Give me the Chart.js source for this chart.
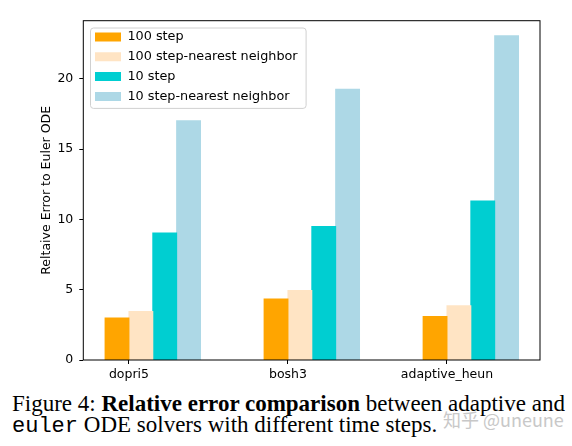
<!DOCTYPE html>
<html>
<head>
<meta charset="utf-8">
<script src="https://cdn.jsdelivr.net/npm/chart.js@4.4.1/dist/chart.umd.min.js"></script>
<style>
  html, body { margin: 0; padding: 0; background: #fff; }
  body { width: 572px; height: 446px; position: relative; overflow: hidden; }
  #wrap { position: absolute; left: 0; top: 0; width: 572px; height: 390px; }
  #caption {
    position: absolute; left: 12px; top: 393px;
    font-family: "Liberation Serif", "Times New Roman", serif;
    font-size: 23px; line-height: 21px; color: #000; white-space: nowrap;
  }
  #caption code { font-family: "Liberation Mono", monospace; font-size: 22px; }
  #mark {
    position: absolute; left: 443px; top: 406px;
    font-family: "Noto Sans CJK SC", sans-serif; font-size: 18px;
    color: #c8c8c8; white-space: nowrap;
  }
</style>
</head>
<body>
<div id="wrap"><canvas id="chart"></canvas></div>
<div id="caption">Figure 4: <b>Relative error comparison</b> between adaptive and<br><code>euler</code> ODE solvers with different time steps.</div>
<div id="mark">知乎 @uneune</div>
<script>
const categories = ['dopri5', 'bosh3', 'adaptive_heun'];
const seriesLabels = ['100 step', '100 step-nearest neighbor', '10 step', '10 step-nearest neighbor'];
const step100 = [2.99, 4.34, 3.1];
const step100NN = [3.45, 4.95, 3.86];
const step10 = [9.03, 9.5, 11.32];
const step10NN = [17.03, 19.26, 23.07];
const yTicks = [0, 5, 10, 15, 20];

const colors = ['orange', 'bisque', 'darkturquoise', 'lightblue'];
const barWidth = 0.15;
const tickFont = { family: 'DejaVu Sans', size: 12.5 };

const datasets = [step100, step100NN, step10, step10NN].map((vals, k) => ({
  label: seriesLabels[k],
  data: vals.map((v, i) => ({ x: i + (k - 0.5) * barWidth, y: v })),
  backgroundColor: colors[k],
  borderWidth: 0,
  inflateAmount: 0.5,
  grouped: false,
  barPercentage: 1,
  categoryPercentage: 1,
}));

// matplotlib-like frame around the axes and legend box
const framePlugin = {
  id: 'frame',
  afterUpdate(chart) {
    const lg = chart.legend;
    if (!lg || !lg.legendHitBoxes.length) return;
    const pad = lg.options.labels.padding;
    const itemH = lg.legendHitBoxes[0].height;
    const dx = chart.chartArea.left + 11.7 - pad - lg.left;
    const dy = chart.chartArea.top + 16.3 - itemH / 2 - pad - lg.top;
    lg.left += dx; lg.right += dx;
    lg.top += dy; lg.bottom += dy;
    lg.legendHitBoxes.forEach(h => { h.left += dx; h.top += dy; });
  },
  beforeDraw(chart) {
    const lg = chart.legend;
    if (!lg || !lg.legendHitBoxes.length) return;
    const hb = lg.legendHitBoxes;
    const x0 = hb[0].left - 5;
    const x1 = Math.max(...hb.map(h => h.left + h.width)) + 8;
    const y0 = hb[0].top + hb[0].height / 2 - 9.5;
    const last = hb[hb.length - 1];
    const y1 = last.top + last.height / 2 + 11.5;
    const ctx = chart.ctx;
    ctx.save();
    ctx.beginPath();
    ctx.roundRect(x0 + 0.5, y0 + 0.5, x1 - x0, y1 - y0, 3);
    ctx.fillStyle = 'rgba(255,255,255,0.8)';
    ctx.fill();
    ctx.strokeStyle = '#d0d0d0';
    ctx.lineWidth = 1;
    ctx.stroke();
    ctx.restore();
  },
  afterDraw(chart) {
    const a = chart.chartArea;
    const ctx = chart.ctx;
    ctx.save();
    ctx.strokeStyle = '#000';
    ctx.lineWidth = 1;
    ctx.strokeRect(a.left, a.top, a.right - a.left, a.bottom - a.top);
    ctx.restore();
  }
};

new Chart(document.getElementById('chart'), {
  type: 'bar',
  data: { datasets },
  plugins: [framePlugin],
  options: {
    responsive: true,
    maintainAspectRatio: false,
    animation: false,
    layout: { padding: { top: 20.7, right: 32, bottom: 0, left: 0 } },
    plugins: {
      legend: {
        position: 'chartArea',
        align: 'start',
        onClick: null,
        labels: { boxWidth: 26, boxHeight: 9, padding: 7, color: '#000', font: { family: 'DejaVu Sans', size: 12.8 } },
      },
      tooltip: { enabled: false },
    },
    scales: {
      x: {
        type: 'linear',
        min: -0.287,
        max: 2.585,
        offset: false,
        afterBuildTicks: s => { s.ticks = categories.map((c, i) => ({ value: i })); },
        ticks: { callback: v => categories[v], padding: 3, color: '#000', font: tickFont, autoSkip: false, maxRotation: 0 },
        grid: { display: true, offset: false, drawOnChartArea: false, tickLength: 4, color: '#000' },
        border: { display: false },
        afterFit: s => { s.height = 30; },
      },
      y: {
        min: 0,
        max: 24.14,
        afterBuildTicks: s => { s.ticks = yTicks.map(v => ({ value: v })); },
        ticks: { padding: 6, color: '#000', font: tickFont },
        grid: { display: true, drawOnChartArea: false, tickLength: 4, color: '#000' },
        border: { display: false },
        title: {
          display: true,
          text: 'Reltaive Error to Euler ODE',
          color: '#000',
          font: tickFont,
          padding: { top: 39.5, bottom: 0 },
        },
        afterFit: s => { s.width = 83.3; },
      },
    },
  },
});
</script>
</body>
</html>
